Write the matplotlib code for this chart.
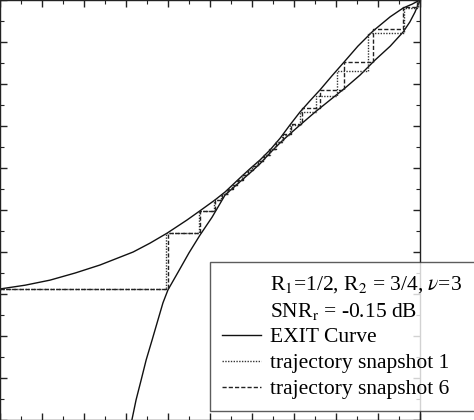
import matplotlib
matplotlib.use("Agg")
import matplotlib.pyplot as plt
from matplotlib.lines import Line2D
from matplotlib.ticker import MultipleLocator

plt.rcParams['font.family'] = ['Liberation Serif', 'DejaVu Serif']
plt.rcParams['mathtext.fontset'] = 'stix'

# EXIT curve, upper branch (T1)
exitA_x = [0.0, 0.060, 0.119, 0.179, 0.238, 0.317, 0.357, 0.398, 0.445, 0.476,
           0.512, 0.536, 0.571, 0.595, 0.619, 0.643, 0.667, 0.690, 0.714, 0.738,
           0.762, 0.790, 0.819, 0.852, 0.888, 0.929, 0.960, 0.981, 1.0]
exitA_y = [0.312, 0.321, 0.333, 0.350, 0.369, 0.400, 0.421, 0.445, 0.476, 0.498,
           0.524, 0.543, 0.576, 0.598, 0.619, 0.643, 0.671, 0.702, 0.733, 0.760,
           0.786, 0.819, 0.852, 0.890, 0.926, 0.960, 0.981, 0.990, 1.0]
# EXIT curve, lower branch (inverse T2)
exitB_x = [0.314, 0.324, 0.336, 0.348, 0.362, 0.376, 0.388, 0.400, 0.424, 0.450,
           0.476, 0.505, 0.536, 0.571, 0.595, 0.619, 0.643, 0.667, 0.690, 0.714,
           0.750, 0.786, 0.821, 0.857, 0.893, 0.929, 0.960, 0.976, 0.988, 1.0]
exitB_y = [0.0, 0.048, 0.095, 0.143, 0.190, 0.238, 0.279, 0.310, 0.352, 0.398,
           0.440, 0.483, 0.536, 0.567, 0.588, 0.610, 0.636, 0.660, 0.681, 0.702,
           0.733, 0.762, 0.790, 0.821, 0.857, 0.890, 0.924, 0.948, 0.971, 1.0]

# trajectory snapshot 1: x of vertical steps, y of horizontal steps
traj1_v = [0.395, 0.474, 0.510, 0.526, 0.540, 0.552, 0.564, 0.576, 0.588, 0.600,
           0.612, 0.626, 0.640, 0.655, 0.671, 0.690, 0.714, 0.752, 0.802, 0.876,
           0.962, 0.995, 1.0]
traj1_h = [0.312, 0.445, 0.498, 0.524, 0.538, 0.550, 0.560, 0.571, 0.583, 0.595,
           0.605, 0.617, 0.631, 0.645, 0.662, 0.679, 0.702, 0.733, 0.771, 0.831,
           0.921, 0.981, 0.995, 1.0]
# trajectory snapshot 6
traj6_v = [0.400, 0.476, 0.512, 0.529, 0.543, 0.555, 0.567, 0.579, 0.590, 0.602,
           0.614, 0.629, 0.643, 0.657, 0.674, 0.693, 0.719, 0.762, 0.819, 0.888,
           0.960, 0.993, 1.0]
traj6_h = [0.312, 0.445, 0.498, 0.524, 0.538, 0.550, 0.560, 0.571, 0.583, 0.595,
           0.605, 0.617, 0.631, 0.645, 0.662, 0.681, 0.705, 0.743, 0.786, 0.852,
           0.931, 0.983, 0.995, 1.0]


def stairs(v, h):
    xs, ys = [0.0], [h[0]]
    for i, xv in enumerate(v):
        xs += [xv, xv]
        ys += [h[i], h[i + 1]]
    return xs, ys


fig = plt.figure(figsize=(4.74, 4.2), dpi=100)
ax = fig.add_axes([0.0, 0.0, 420 / 474, 1.0])
ax.set_xlim(0, 1)
ax.set_ylim(0, 1)

col = '#111111'
ax.plot(exitA_x, exitA_y, '-', color=col, lw=1.0)
ax.plot(exitB_x, exitB_y, '-', color=col, lw=1.0)
x1, y1 = stairs(traj1_v, traj1_h)
ax.plot(x1, y1, linestyle=(0, (1, 1)), color='#333333', lw=1.0)
x6, y6 = stairs(traj6_v, traj6_h)
ax.plot(x6, y6, linestyle=(0, (3, 1.5)), color='#222222', lw=1.0)

ax.xaxis.set_major_locator(MultipleLocator(0.1))
ax.xaxis.set_minor_locator(MultipleLocator(0.05))
ax.yaxis.set_major_locator(MultipleLocator(0.1))
ax.yaxis.set_minor_locator(MultipleLocator(0.05))
ax.tick_params(which='both', direction='in', top=True, right=True,
               labelbottom=False, labelleft=False, color='#222222')
ax.tick_params(which='major', length=5, width=1.0)
ax.tick_params(which='minor', length=3, width=0.8)
for s in ax.spines.values():
    s.set_linewidth(1.0)
    s.set_color('#222222')

handles = [
    Line2D([], [], color='none'),
    Line2D([], [], color='none'),
    Line2D([], [], color=col, lw=1.0),
    Line2D([], [], color='#333333', lw=1.0, linestyle=(0, (1, 1))),
    Line2D([], [], color='#222222', lw=1.0, linestyle=(0, (3, 1.5))),
]
labels = [
    r'R$_1$=1/2, R$_2$ = 3/4, $\nu$=3',
    r'SNR$_\mathrm{r}$ = -0.15 dB',
    'EXIT Curve',
    'trajectory snapshot 1',
    'trajectory snapshot 6',
]
leg = fig.legend(handles, labels, loc='upper left',
                 bbox_to_anchor=(210 / 474, 1 - 412 / 420, 290 / 474, 150 / 420),
                 mode='expand', fontsize=15.5, frameon=True, fancybox=False,
                 handlelength=1.8, handletextpad=0.45, labelspacing=0.27,
                 borderpad=0.55, borderaxespad=0.0)
leg.get_frame().set_edgecolor('#333333')
leg.get_frame().set_linewidth(1.0)

fig.savefig('out.png', dpi=100)
